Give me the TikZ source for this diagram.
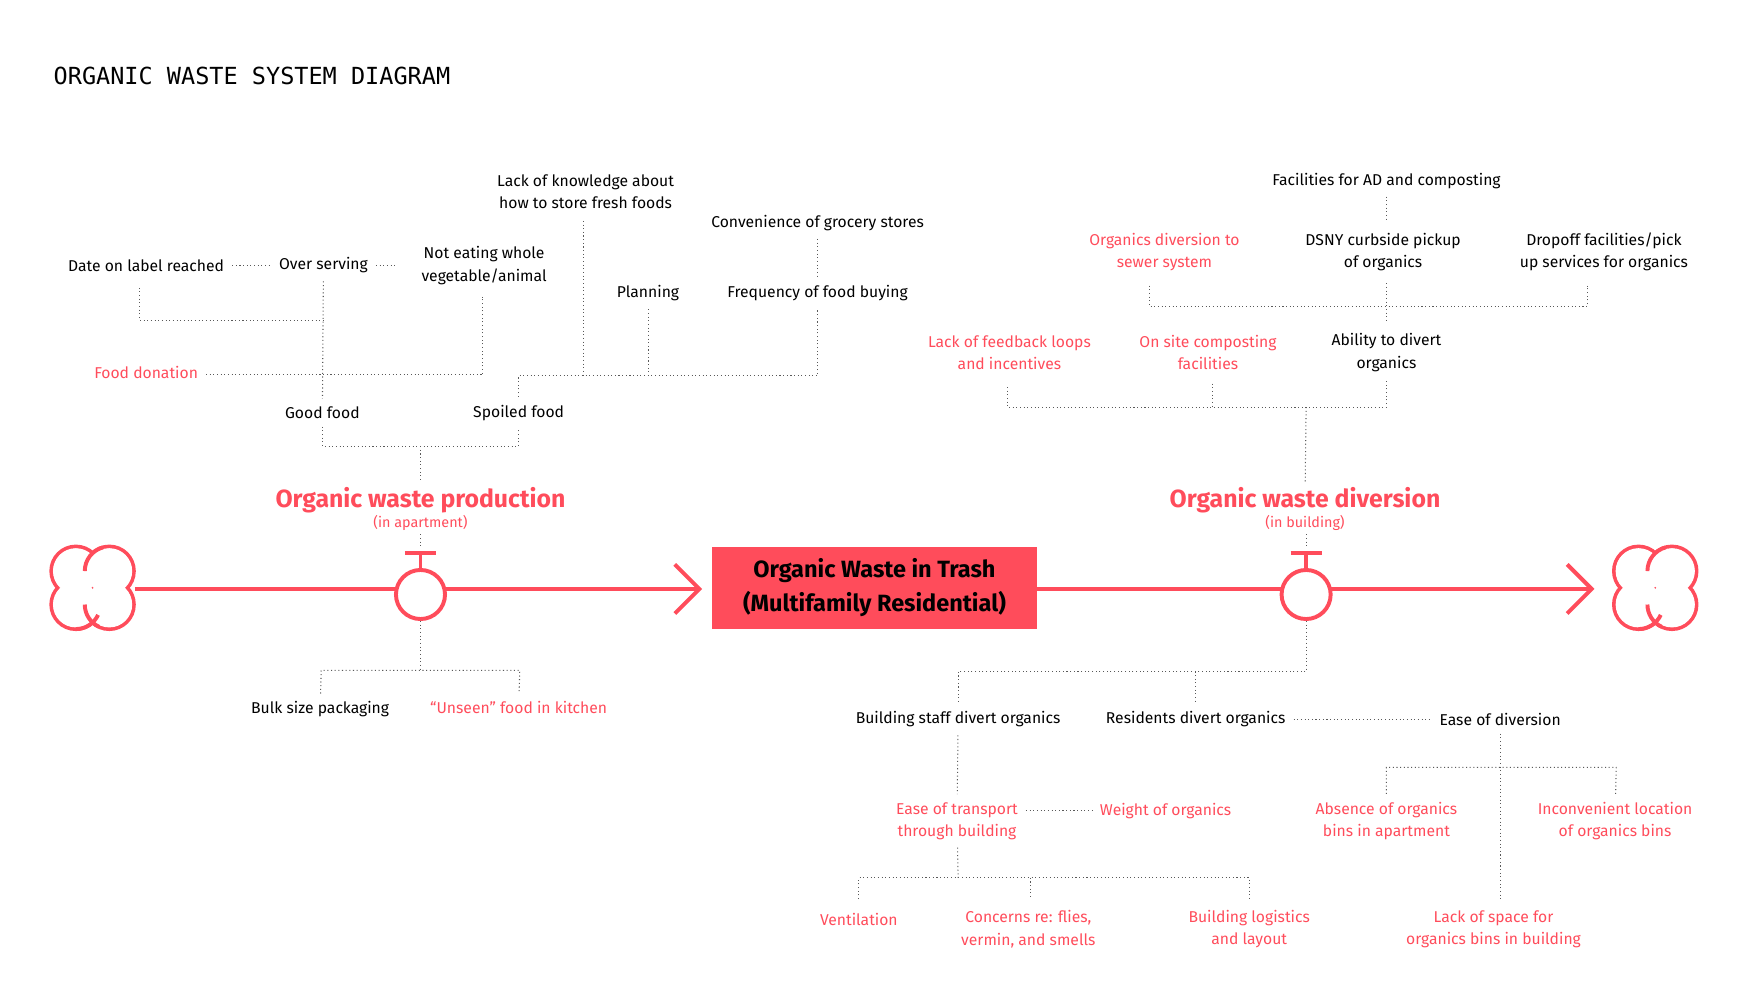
\documentclass[tikz,border=0pt]{standalone}
\usepackage{fontspec}
\setmainfont{Fira Sans}
\setmonofont{DejaVu Sans Mono}
\usepackage{tikz}
\definecolor{wred}{HTML}{FF4C5B}

\begin{document}
\begin{tikzpicture}[x=0.03cm,y=-0.03cm,
    lbl/.style={align=center,font=\fontsize{12}{17}\selectfont,inner sep=6pt},
    rlbl/.style={lbl,text=wred},
    dots/.style={dotted,gray!70!black,line width=0.8pt},
    flow/.style={wred,line width=3pt},
    valve/.style={draw=wred,circle,line width=3pt,fill=white,minimum size=44*0.03cm,inner sep=0},
    big/.style={text=wred,font=\fontsize{19}{22}\selectfont\bfseries}]
    \useasboundingbox (0,0) rectangle (1560,898);

    % title
    \node[anchor=west,font=\fontsize{18}{22}\ttfamily] (title) at (44,68) {ORGANIC WASTE SYSTEM DIAGRAM};

    % main flow
    \coordinate (srcL) at (121,528);
    \coordinate (tipL) at (627,528);
    \coordinate (srcR) at (930,528);
    \coordinate (tipR) at (1427,528);
    \draw[flow] (srcL) -- (tipL);
    \draw[flow] (srcR) -- (tipR);
    \draw[flow] (605,506) -- (tipL) -- (605,550);
    \draw[flow] (1405,506) -- (tipR) -- (1405,550);
    \node[fill=wred,minimum width=292*0.03cm,minimum height=73*0.03cm,align=center,
          font=\fontsize{18}{26}\selectfont\bfseries] (trash) at (784,527) {Organic Waste in Trash\\(Multifamily Residential)};
    % sources and sinks
    \foreach \cx in {83,1484}{
        \foreach \dx/\dy in {-15/-15,15/-15,-15/15,15/15}
            \draw[wred,line width=3pt] (\cx+\dx,527+\dy) circle (22*0.03cm);
        \foreach \dx/\dy in {-15/-15,15/-15,-15/15,15/15}
            \fill[white] (\cx+\dx,527+\dy) circle (20.5*0.03cm);
        \draw[wred,line width=3pt] (\cx+15,512) ++(180:22*0.03cm) arc (180:105:22*0.03cm);
        \draw[wred,line width=3pt] (\cx+15,542) ++(180:22*0.03cm) arc (180:245:22*0.03cm);
        \draw[wred,line width=3pt] (\cx-15,542) ++(270:22*0.03cm) arc (270:335:22*0.03cm);
    }
    \node[valve] (valveP) at (377,533) {};
    \node[valve] (valveD) at (1171,533) {};
    \draw[flow] (valveP.north) -- (377,496) (363,496) -- (391,496);
    \draw[flow] (valveD.north) -- (1171,496) (1157,496) -- (1185,496);

    % production side
    \node[big] (prod) at (377,448) {Organic waste production};
    \node[text=wred,font=\fontsize{11}{14}\selectfont] (prodsub) at (377,469) {(in apartment)};
    \draw[dots] (377,479) -- (377,492);
    \node[lbl] (good) at (289,370) {Good food};
    \node[lbl] (spoiled) at (465,370) {Spoiled food};
    \draw[dots] (good) -- (289,400) -- (465,400) -- (spoiled);
    \draw[dots] (377,400) -- (prod);
    \node[lbl] (date) at (131,238) {Date on label reached};
    \node[lbl] (over) at (290,238) {Over serving};
    \node[lbl] (whole) at (434,238) {Not eating whole\\vegetable/animal};
    \node[rlbl] (donation) at (131,334) {Food donation};
    \draw[dots] (date) -- (over);
    \draw[dots] (over) -- (355,238);
    \draw[dots] (125,258) -- (125,287) -- (290,287);
    \draw[dots] (over) -- (good);
    \draw[dots] (donation.east |- 0,336) -- (433,336) -- (433,266);
    \node[lbl] (knowledge) at (525,172) {Lack of knowledge about\\how to store fresh foods};
    \node[lbl] (convenience) at (733,200) {Convenience of grocery stores};
    \node[lbl] (planning) at (581,263) {Planning};
    \node[lbl] (frequency) at (733,263) {Frequency of food buying};
    \draw[dots] (convenience) -- (frequency);
    \draw[dots] (spoiled) -- (465,337) -- (733,337) -- (frequency);
    \draw[dots] (523,198) -- (523,337);
    \draw[dots] (planning) -- (581,337);
    \node[lbl] (bulk) at (287,636) {Bulk size packaging};
    \node[rlbl] (unseen) at (465,634) {“Unseen” food in kitchen};
    \draw[dots] (valveP.south) -- (377,601);
    \draw[dots] (bulk) -- (288,601) -- (466,601) -- (unseen);

    % diversion side
    \node[big] (div) at (1170,448) {Organic waste diversion};
    \node[text=wred,font=\fontsize{11}{14}\selectfont] (divsub) at (1170,469) {(in building)};
    \draw[dots] (1171,479) -- (1171,492);
    \node[rlbl] (feedback) at (905,316) {Lack of feedback loops\\and incentives};
    \node[rlbl] (onsite) at (1083,316) {On site composting\\facilities};
    \node[lbl] (ability) at (1243,316) {Ability to divert\\organics};
    \draw[dots] (903,347) -- (903,365) -- (1243,365) -- (ability);
    \draw[dots] (1087,344) -- (1087,365);
    \draw[dots] (1171,365) -- (div);
    \node[lbl] (facilities) at (1243,162) {Facilities for AD and composting};
    \node[rlbl] (sewer) at (1044,226) {Organics diversion to\\sewer system};
    \node[lbl] (dsny) at (1240,226) {DSNY curbside pickup\\of organics};
    \node[lbl] (dropoff) at (1438,226) {Dropoff facilities/pick\\up services for organics};
    \draw[dots] (facilities) -- (1243,198);
    \draw[dots] (1031,256) -- (1031,275) -- (1423,275) -- (1423,256);
    \draw[dots] (1243,254) -- (1243,290);
    \node[lbl] (staff) at (859,645) {Building staff divert organics};
    \node[lbl] (residents) at (1072,645) {Residents divert organics};
    \node[lbl] (ease) at (1345,645) {Ease of diversion};
    \draw[dots] (valveD.south) -- (1171,602) -- (859,602) -- (staff);
    \draw[dots] (1072,602) -- (residents);
    \draw[dots] (residents) -- (ease);
    \node[rlbl] (transport) at (858,736) {Ease of transport\\through building};
    \node[rlbl] (weight) at (1045,727) {Weight of organics};
    \draw[dots] (staff) -- (transport);
    \draw[dots] (transport.east |- weight) -- (weight);
    \node[rlbl] (vent) at (770,824) {Ventilation};
    \node[rlbl] (flies) at (922,833) {Concerns re: flies,\\vermin, and smells};
    \node[rlbl] (logistics) at (1120,833) {Building logistics\\and layout};
    \draw[dots] (transport) -- (859,787);
    \draw[dots] (770,806) -- (770,787) -- (1120,787) -- (1120,806);
    \draw[dots] (924,787) -- (924,806);
    \node[rlbl] (absence) at (1243,736) {Absence of organics\\bins in apartment};
    \node[rlbl] (inconvenient) at (1448,736) {Inconvenient location\\of organics bins};
    \node[rlbl] (space) at (1339,833) {Lack of space for\\organics bins in building};
    \draw[dots] (ease) -- (1345,808);
    \draw[dots] (absence) -- (1243,688) -- (1449,688) -- (inconvenient);
\end{tikzpicture}
\end{document}
